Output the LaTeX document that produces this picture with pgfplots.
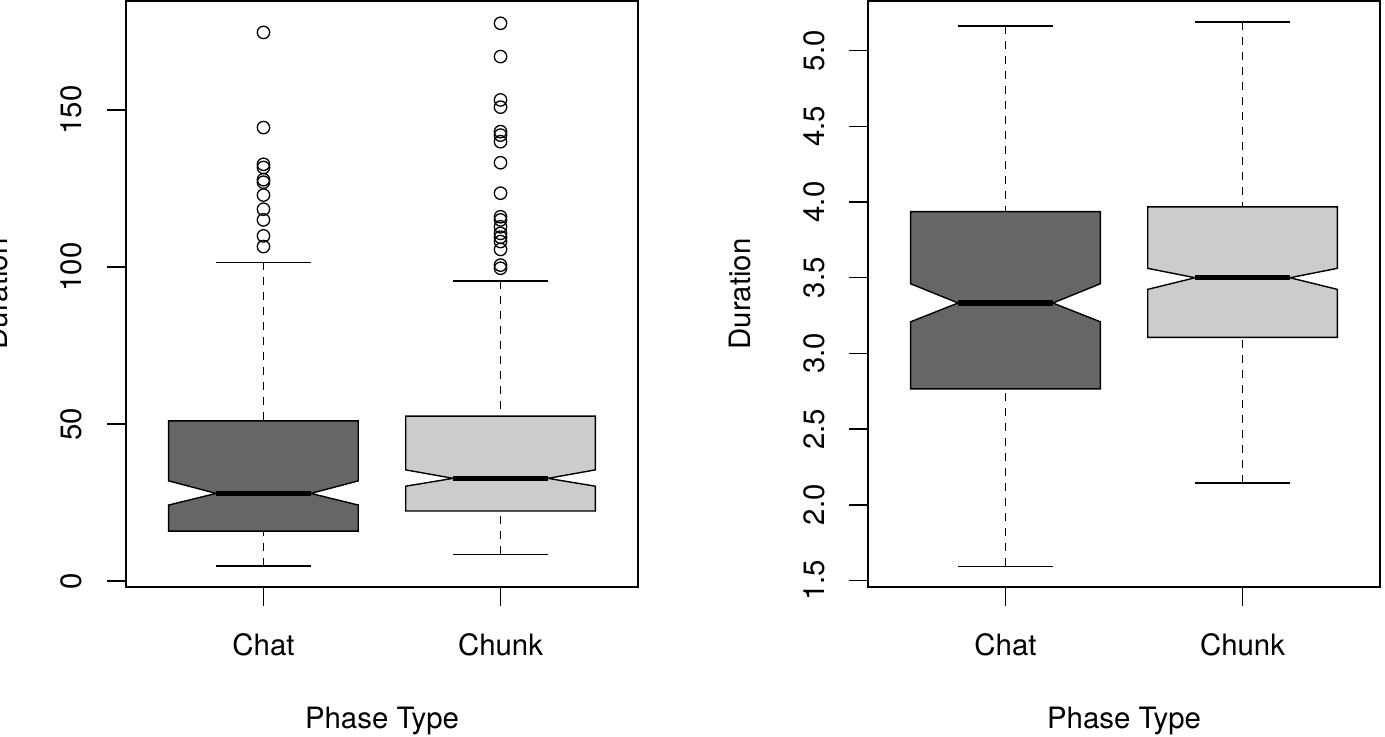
\documentclass[border=0pt]{standalone}
\usepackage{fontspec}
\setmainfont{TeX Gyre Heros}
\usepackage{pgfplots}
\pgfplotsset{compat=1.18}
\definecolor{dk}{HTML}{666666}
\definecolor{lt}{HTML}{CCCCCC}
\newcommand\fsz{\fontsize{14.7}{17}\selectfont}
\pgfplotsset{
 rbox/.style={
  scale only axis, width=256pt, height=293pt,
  xmin=0.42, xmax=2.58,
  xtick={1,2}, xticklabels={Chat,Chunk},
  tick align=outside, tick pos=left,
  major tick length=9.5pt,
  tick style={black, line width=0.7pt},
  axis line style={line width=0.75pt},
  /pgf/number format/assume math mode=true,
  tick label style={font=\fsz},
  xticklabel style={anchor=base, yshift=-24.5pt},
  yticklabel style={xshift=-12.5pt, rotate=90, anchor=base},
  xlabel={Phase Type}, ylabel={Duration},
  every axis x label/.style={at={(axis description cs:0.5,0)}, anchor=base, yshift=-70.5pt, font=\fsz},
  every axis y label/.style={at={(axis description cs:0,0.5)}, xshift=-59pt, rotate=90, anchor=base, font=\fsz},
 },
 boxl/.style={draw=black, line width=0.7pt},
 wsk/.style={black, line width=0.75pt, dash pattern=on 4pt off 3.5pt},
 cap/.style={black, line width=0.7pt},
 med/.style={black, line width=2.6pt},
 outl/.style={only marks, mark=o, mark size=3.1pt, mark options={black, line width=0.65pt}},
}
\begin{document}
\begin{tikzpicture}[x=1pt,y=1pt]
\path[use as bounding box] (0,0) rectangle (692.5,368);
\clip (0,0) rectangle (692.5,368);
% ---------------- left panel ----------------
\begin{axis}[rbox, at={(63pt,74.5pt)}, anchor=south west,
  ymin=-1.9, ymax=184.7, ytick={0,50,100,150}]
% Chat
\addplot[wsk] coordinates {(1,4.8) (1,15.9)};
\addplot[wsk] coordinates {(1,101.5) (1,51.0)};
\addplot[boxl, fill=dk] coordinates {(0.6,15.9) (1.4,15.9) (1.4,24.2) (1.2,27.9) (1.4,31.9) (1.4,51.0) (0.6,51.0) (0.6,31.9) (0.8,27.9) (0.6,24.2)} -- cycle;
\addplot[med] coordinates {(0.8,27.9) (1.2,27.9)};
\addplot[cap] coordinates {(0.8,4.8) (1.2,4.8)};
\addplot[cap] coordinates {(0.8,101.5) (1.2,101.5)};
\addplot[outl] coordinates {(1,174.7) (1,144.4) (1,132.7) (1,131.7) (1,127.8) (1,127.0) (1,122.9) (1,118.4) (1,115.0) (1,109.9) (1,106.5)};
% Chunk
\addplot[wsk] coordinates {(2,8.5) (2,22.3)};
\addplot[wsk] coordinates {(2,95.5) (2,52.5)};
\addplot[boxl, fill=lt] coordinates {(1.6,22.3) (2.4,22.3) (2.4,30.2) (2.2,32.7) (2.4,35.4) (2.4,52.5) (1.6,52.5) (1.6,35.4) (1.8,32.7) (1.6,30.2)} -- cycle;
\addplot[med] coordinates {(1.8,32.7) (2.2,32.7)};
\addplot[cap] coordinates {(1.8,8.5) (2.2,8.5)};
\addplot[cap] coordinates {(1.8,95.5) (2.2,95.5)};
\addplot[outl] coordinates {(2,177.6) (2,167.0) (2,153.2) (2,150.9) (2,143.1) (2,142.0) (2,139.9) (2,133.2) (2,123.5) (2,116.0) (2,115.0) (2,112.8) (2,110.7) (2,109.5) (2,108.1) (2,105.6) (2,100.6) (2,99.6)};
\end{axis}
% ---------------- right panel ----------------
\begin{axis}[rbox, at={(434pt,74.5pt)}, anchor=south west,
  ymin=1.457, ymax=5.328, ytick={1.5,2,...,5},
  yticklabel={\pgfmathprintnumber[fixed,fixed zerofill,precision=1]{\tick}}]
% Chat
\addplot[wsk] coordinates {(1,1.593) (1,2.766)};
\addplot[wsk] coordinates {(1,5.164) (1,3.937)};
\addplot[boxl, fill=dk] coordinates {(0.6,2.766) (1.4,2.766) (1.4,3.209) (1.2,3.333) (1.4,3.460) (1.4,3.937) (0.6,3.937) (0.6,3.460) (0.8,3.333) (0.6,3.209)} -- cycle;
\addplot[med] coordinates {(0.8,3.333) (1.2,3.333)};
\addplot[cap] coordinates {(0.8,1.593) (1.2,1.593)};
\addplot[cap] coordinates {(0.8,5.164) (1.2,5.164)};
% Chunk
\addplot[wsk] coordinates {(2,2.145) (2,3.106)};
\addplot[wsk] coordinates {(2,5.189) (2,3.968)};
\addplot[boxl, fill=lt] coordinates {(1.6,3.106) (2.4,3.106) (2.4,3.423) (2.2,3.500) (2.4,3.562) (2.4,3.968) (1.6,3.968) (1.6,3.562) (1.8,3.500) (1.6,3.423)} -- cycle;
\addplot[med] coordinates {(1.8,3.500) (2.2,3.500)};
\addplot[cap] coordinates {(1.8,2.145) (2.2,2.145)};
\addplot[cap] coordinates {(1.8,5.189) (2.2,5.189)};
\end{axis}
\end{tikzpicture}
\end{document}
